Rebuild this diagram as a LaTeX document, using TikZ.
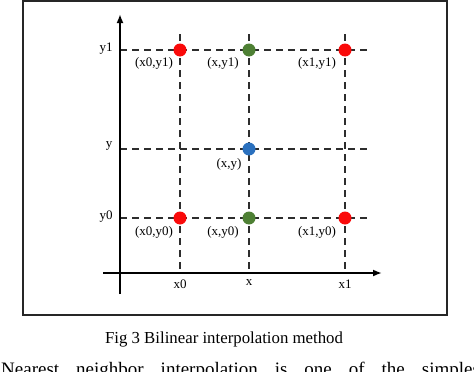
\documentclass[tikz,border=0pt]{standalone}
\usepackage{fontspec}
\setmainfont{Liberation Serif}
\usetikzlibrary{arrows.meta,positioning}
\definecolor{ptred}{RGB}{250,10,10}
\definecolor{ptgreen}{RGB}{78,128,52}
\definecolor{ptblue}{RGB}{42,112,190}
\definecolor{gridgray}{RGB}{45,45,45}

\begin{document}
\begin{tikzpicture}[x=1pt,y=-1pt,
    axis/.style={line width=2pt, -{Latex[length=9pt,width=7pt]}},
    gridline/.style={gridgray, line width=1.6pt, dash pattern=on 7pt off 5pt},
    dot/.style={circle, fill=#1, minimum size=13pt, inner sep=0pt},
    lbl/.style={font=\fontsize{13}{15}\selectfont, inner sep=1pt}]
    \useasboundingbox (0,0) rectangle (474,372);

    % Frame
    \draw[line width=2pt, black!85] (23,1) rectangle (447,315);

    % Dashed grid
    \foreach \gx in {180,249,345}
        \draw[gridline] (\gx,34) -- (\gx,273);
    \foreach \gy in {50,149,218}
        \draw[gridline] (120,\gy) -- (367,\gy);

    % Axes
    \coordinate (xstart) at (103,273);
    \coordinate (xend) at (382,273);
    \coordinate (ystart) at (120,294);
    \coordinate (yend) at (120,14);
    \draw[axis] (xstart) -- (xend);
    \draw[axis] (ystart) -- (yend);

    % Axis labels
    \node[lbl] (ly1) at (106,49) {y1};
    \node[lbl] (ly) at (109,146) {y};
    \node[lbl] (ly0) at (106,217) {y0};
    \node[lbl] (lx0) at (180,284) {x0};
    \node[lbl] (lx) at (249,283) {x};
    \node[lbl] (lx1) at (345,284) {x1};

    % Points
    \node[dot=ptred] (p01) at (180,50) {};
    \node[dot=ptgreen] (pxy1) at (249,50) {};
    \node[dot=ptred] (p11) at (345,50) {};
    \node[dot=ptblue] (pxy) at (249,149) {};
    \node[dot=ptred] (p00) at (180,218) {};
    \node[dot=ptgreen] (pxy0) at (249,218) {};
    \node[dot=ptred] (p10) at (345,218) {};

    % Point labels
    \node[lbl] (l01) at (154,63) {(x0,y1)};
    \node[lbl] (lxy1) at (223,63) {(x,y1)};
    \node[lbl] (l11) at (317,63) {(x1,y1)};
    \node[lbl] (lxy) at (229,164) {(x,y)};
    \node[lbl] (l00) at (154,232) {(x0,y0)};
    \node[lbl] (lxy0) at (223,232) {(x,y0)};
    \node[lbl] (l10) at (317,232) {(x1,y0)};

    % Caption and following text
    \node[font=\fontsize{16.8}{19}\selectfont] (caption) at (224,339) {Fig 3 Bilinear interpolation method};
    \node[anchor=base west, inner sep=0pt, font=\fontsize{19}{21}\selectfont] (bodytext) at (1,375)
        {\makebox[484pt][s]{Nearest neighbor interpolation is one of the simplest}};
\end{tikzpicture}
\end{document}
